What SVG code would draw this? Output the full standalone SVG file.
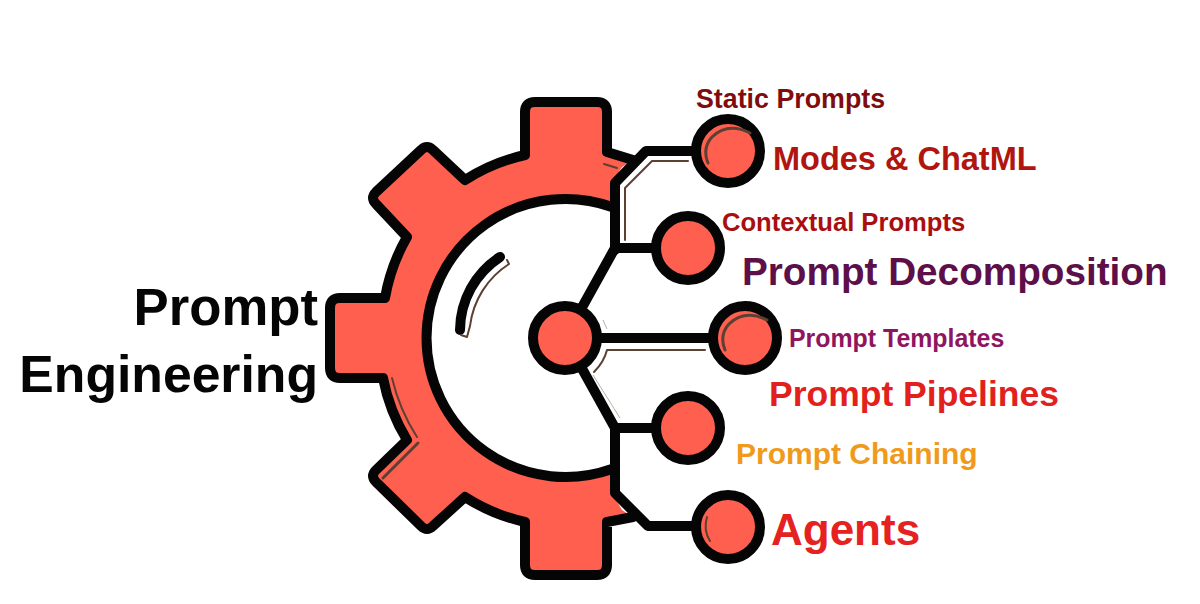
<svg xmlns="http://www.w3.org/2000/svg" width="1200" height="604" viewBox="0 0 1200 604">
<style>
text{font-family:"Liberation Sans",Arial,sans-serif;font-weight:700}
.k{fill:none;stroke:#050505;stroke-width:10;stroke-linejoin:round;stroke-linecap:round}
.br{fill:none;stroke:#5c4033;stroke-width:2;stroke-linecap:round;stroke-linejoin:round}
.br3{stroke-width:3}
.thin{fill:none;stroke:#a89a90;stroke-width:.8}
.dot{fill:#ff5f4f;stroke:#050505;stroke-width:10}
</style>
<rect width="1200" height="604" fill="#fff"/>
<g id="gear">
<path d="M622 167L633 160L607 152V102H525V155A186 186 0 0 0 465 180L427 144L370 198L407 237A186 186 0 0 0 385 298H330V378H383A186 186 0 0 0 407 440L370 476L427 532L465 497A186 186 0 0 0 525 522V575H607V522L633 517L622 510L612 493V469A139 139 0 1 1 612 207V182Z" fill="#ff5f4f" stroke="none"/>
<path class="k" d="M633 160L607 152V112Q607 102 597 102H535Q525 102 525 112V155A186 186 0 0 0 465 180L433 150Q427 144 421 150L376 192Q370 198 376 204L407 237A186 186 0 0 0 385 298H340Q330 298 330 308V368Q330 378 340 378H383A186 186 0 0 0 407 440L376 470Q370 476 376 482L421 526Q427 532 433 526L465 497A186 186 0 0 0 525 522V565Q525 575 535 575H597Q607 575 607 565V522L633 517"/>
<path class="k" d="M612 207A139 139 0 1 0 612 469"/>
<path class="k" d="M500 257A88 88 0 0 0 460 330"/>
<path class="br" d="M507 260L509 264A86 86 0 0 0 470 326L467 337L461 335"/>
<path class="br" d="M604 164L617 168"/>
<path class="br" d="M392 378A190 190 0 0 0 417 437"/>
<path class="br br3" d="M418 443L383 478"/>
</g>
<g id="connectors">
<path class="k" d="M615 250V183L646 151H728"/>
<path class="k" d="M688 248H615L565 338L615 428H688"/>
<path class="k" d="M615 428V493L648 526H728"/>
<path class="k" d="M565 338H745"/>
<path class="br" d="M625 240V188L652 161H688"/>
<path class="br" d="M594 372Q604 362 607 350H705"/>
<path class="thin" d="M593 375L620 418"/>
<path class="thin" d="M603 320L607 329"/>
</g>
<g id="hub"><circle class="dot" cx="565" cy="338" r="32"/></g>
<g id="node-modes"><circle class="dot" cx="728" cy="151" r="32"/><path class="br br3" d="M708 163Q702 148 712 137Q728 122 750 133"/></g>
<g id="node-decomposition"><circle class="dot" cx="688" cy="248" r="32"/></g>
<g id="node-templates"><circle class="dot" cx="745" cy="338" r="32"/><path class="br br3" d="M725 350Q719 335 729 324Q745 309 767 320"/></g>
<g id="node-pipelines"><circle class="dot" cx="688" cy="428" r="32"/></g>
<g id="node-agents"><circle class="dot" cx="728" cy="527" r="32"/><path class="br" d="M707 517Q703 530 710 541"/></g>
<g id="labels">
<text x="318" y="325" font-size="52.7" text-anchor="end" fill="#050505">Prompt</text>
<text x="318" y="392" font-size="51.7" text-anchor="end" fill="#050505">Engineering</text>
<text x="696" y="108" font-size="26.8" fill="#7f0d0d">Static Prompts</text>
<text x="773" y="170" font-size="32.5" fill="#b0150f">Modes &amp; ChatML</text>
<text x="722" y="231" font-size="25.6" fill="#a90f0f">Contextual Prompts</text>
<text x="742" y="285" font-size="38.7" fill="#5d0f4a">Prompt Decomposition</text>
<text x="789" y="347" font-size="24.9" fill="#8f1560">Prompt Templates</text>
<text x="769" y="406" font-size="35.5" fill="#e3211c">Prompt Pipelines</text>
<text x="736" y="464" font-size="30" fill="#ef9a1b">Prompt Chaining</text>
<text x="771" y="545" font-size="44" fill="#e5221f">Agents</text>
</g>
</svg>
